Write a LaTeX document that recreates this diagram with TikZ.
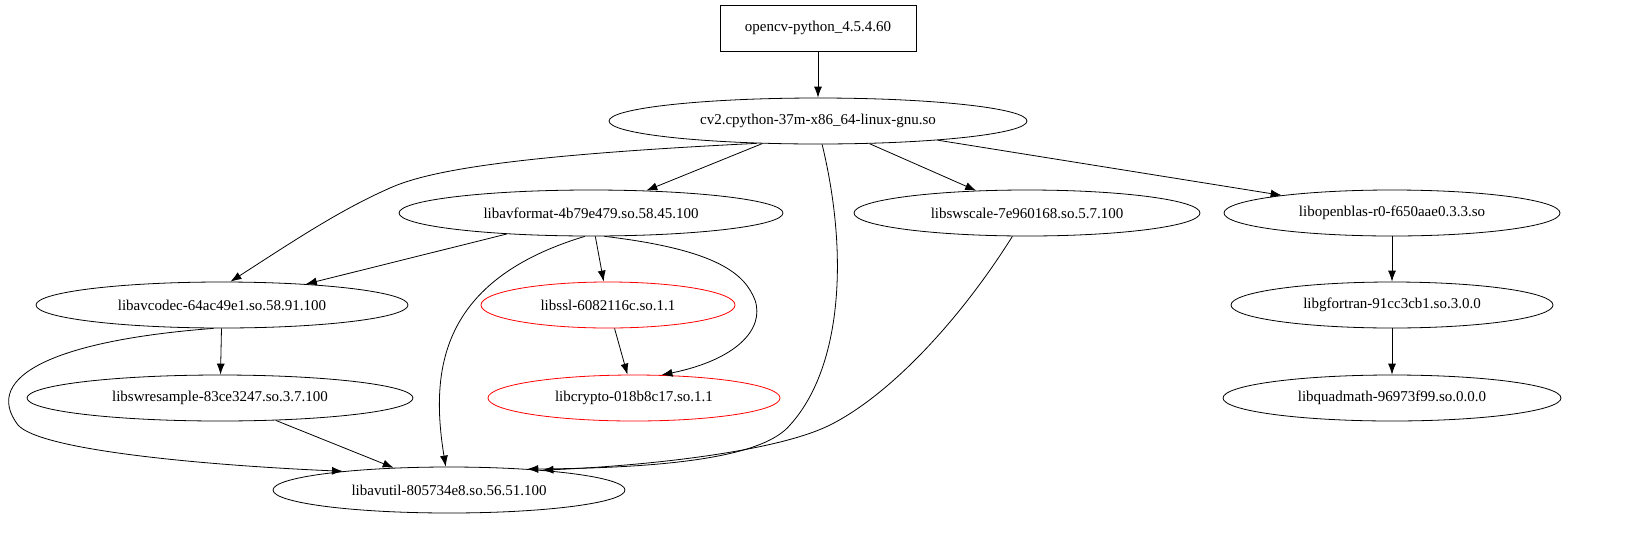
\documentclass[tikz,border=0pt]{standalone}
\usepackage{fontspec}
\setmainfont{Liberation Serif}
\usetikzlibrary{shapes.geometric,arrows.meta}
\begin{document}
\begin{tikzpicture}[x=1pt,y=-1pt,
  el/.style={ellipse,draw,inner sep=0pt,minimum height=46pt,line width=0.8pt,font=\fontsize{15}{17}\selectfont},
  redel/.style={el,draw=red},
  arr/.style={-{Latex[length=11pt,width=8pt]},line width=0.8pt}]
\useasboundingbox (0,0) rectangle (1628,539);
\node[draw,rectangle,line width=0.8pt,minimum width=196pt,minimum height=46pt,font=\fontsize{15}{17}\selectfont] (ocv) at (818,28) {opencv-python\_4.5.4.60};
\node[el,minimum width=418pt] (cv2) at (818,121) {cv2.cpython-37m-x86\_64-linux-gnu.so};
\node[el,minimum width=384pt] (fmt) at (591,213) {libavformat-4b79e479.so.58.45.100};
\node[el,minimum width=346pt] (sws) at (1027,213) {libswscale-7e960168.so.5.7.100};
\node[el,minimum width=336pt] (blas) at (1392,213) {libopenblas-r0-f650aae0.3.3.so};
\node[el,minimum width=372pt] (codec) at (222,305) {libavcodec-64ac49e1.so.58.91.100};
\node[redel,minimum width=254pt] (ssl) at (608,305) {libssl-6082116c.so.1.1};
\node[el,minimum width=322pt] (gf) at (1392,305) {libgfortran-91cc3cb1.so.3.0.0};
\node[el,minimum width=386pt] (swr) at (220,398) {libswresample-83ce3247.so.3.7.100};
\node[redel,minimum width=292pt] (cry) at (634,398) {libcrypto-018b8c17.so.1.1};
\node[el,minimum width=338pt] (qm) at (1392,398) {libquadmath-96973f99.so.0.0.0};
\node[el,minimum width=352pt] (util) at (449,490) {libavutil-805734e8.so.56.51.100};
\draw[arr] (ocv) -- (cv2);
\draw[arr] (cv2) -- (fmt);
\draw[arr] (cv2) -- (sws);
\draw[arr] (cv2) -- (blas);
\draw[arr] (cv2.200) .. controls (520,155) and (430,170) .. (390,188) .. controls (340,210) and (295,240) .. (codec.70);
\draw[arr] (cv2.280) .. controls (850,260) and (840,370) .. (790,425) .. controls (765,455) and (680,468) .. (util.15);
\draw[arr] (sws) .. controls (960,320) and (890,395) .. (830,425) .. controls (780,450) and (660,465) .. (util.12);
\draw[arr] (fmt) -- (codec);
\draw[arr] (fmt.255) .. controls (440,280) and (430,370) .. (util.98);
\draw[arr] (fmt) -- (ssl);
\draw[arr] (fmt.300) .. controls (720,250) and (745,275) .. (755,300) .. controls (765,330) and (735,360) .. (cry.40);
\draw[arr] (ssl) -- (cry);
\draw[arr] (codec) -- (swr);
\draw[arr] (codec.250) .. controls (60,340) and (-20,375) .. (18,425) .. controls (40,450) and (200,465) .. (util.170);
\draw[arr] (swr) -- (util);
\draw[arr] (blas) -- (gf);
\draw[arr] (gf) -- (qm);
\end{tikzpicture}
\end{document}
